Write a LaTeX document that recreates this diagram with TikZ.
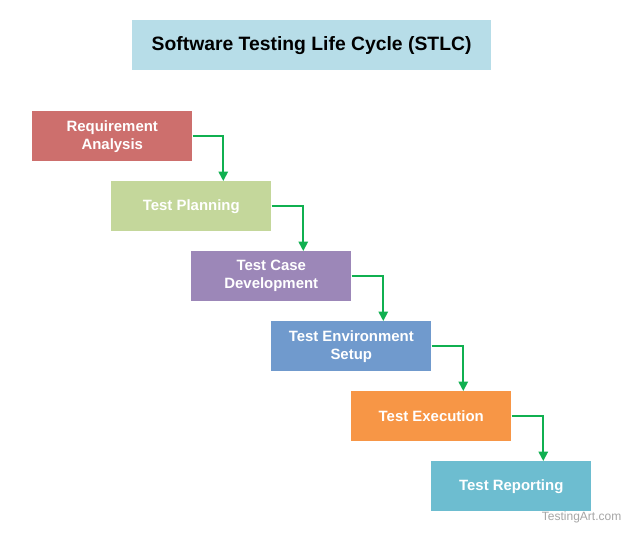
\documentclass[tikz,border=0pt]{standalone}
\usepackage{fontspec}
\setmainfont{Liberation Sans}
\usetikzlibrary{arrows.meta}
\definecolor{titlec}{HTML}{B7DDE8}
\definecolor{c1}{HTML}{CD6F6D}
\definecolor{c2}{HTML}{C4D79B}
\definecolor{c3}{HTML}{9C87B8}
\definecolor{c4}{HTML}{709ACD}
\definecolor{c5}{HTML}{F79646}
\definecolor{c6}{HTML}{6DBDD0}
\definecolor{arr}{HTML}{10B050}
\begin{document}
\begin{tikzpicture}[x=0.75pt,y=-0.75pt,
  stepbox/.style={minimum width=120pt,minimum height=37.5pt,inner sep=0pt,text=white,font=\bfseries\fontsize{11.2}{13.5}\selectfont,align=center,anchor=north west},
  link/.style={color=arr,line width=1.3pt,-{Triangle[length=7pt,width=7pt]}}]
\useasboundingbox (0,0) rectangle (628,532);
\fill[white] (0,0) rectangle (628,532);
\node[fill=titlec,minimum width=269pt,minimum height=37.5pt,anchor=north west,font=\bfseries\fontsize{14.5}{17}\selectfont] (t) at (132,20) {Software Testing Life Cycle (STLC)};
\node[stepbox,fill=c1] (a) at (32,111) {Requirement\\Analysis};
\node[stepbox,fill=c2] (b) at (111,181) {Test Planning};
\node[stepbox,fill=c3] (c) at (191,251) {Test Case\\Development};
\node[stepbox,fill=c4] (d) at (271,321) {Test Environment\\Setup};
\node[stepbox,fill=c5] (e) at (351,391) {Test Execution};
\node[stepbox,fill=c6] (f) at (431,461) {Test Reporting};
\foreach \p/\q in {a/b,b/c,c/d,d/e,e/f}{
  \draw[link] (\p.east) -| ([xshift=24pt]\q.north);
}
\node[text=gray!70,font=\fontsize{9}{10}\selectfont,anchor=east] (w) at (626,517) {TestingArt.com};
\end{tikzpicture}
\end{document}
